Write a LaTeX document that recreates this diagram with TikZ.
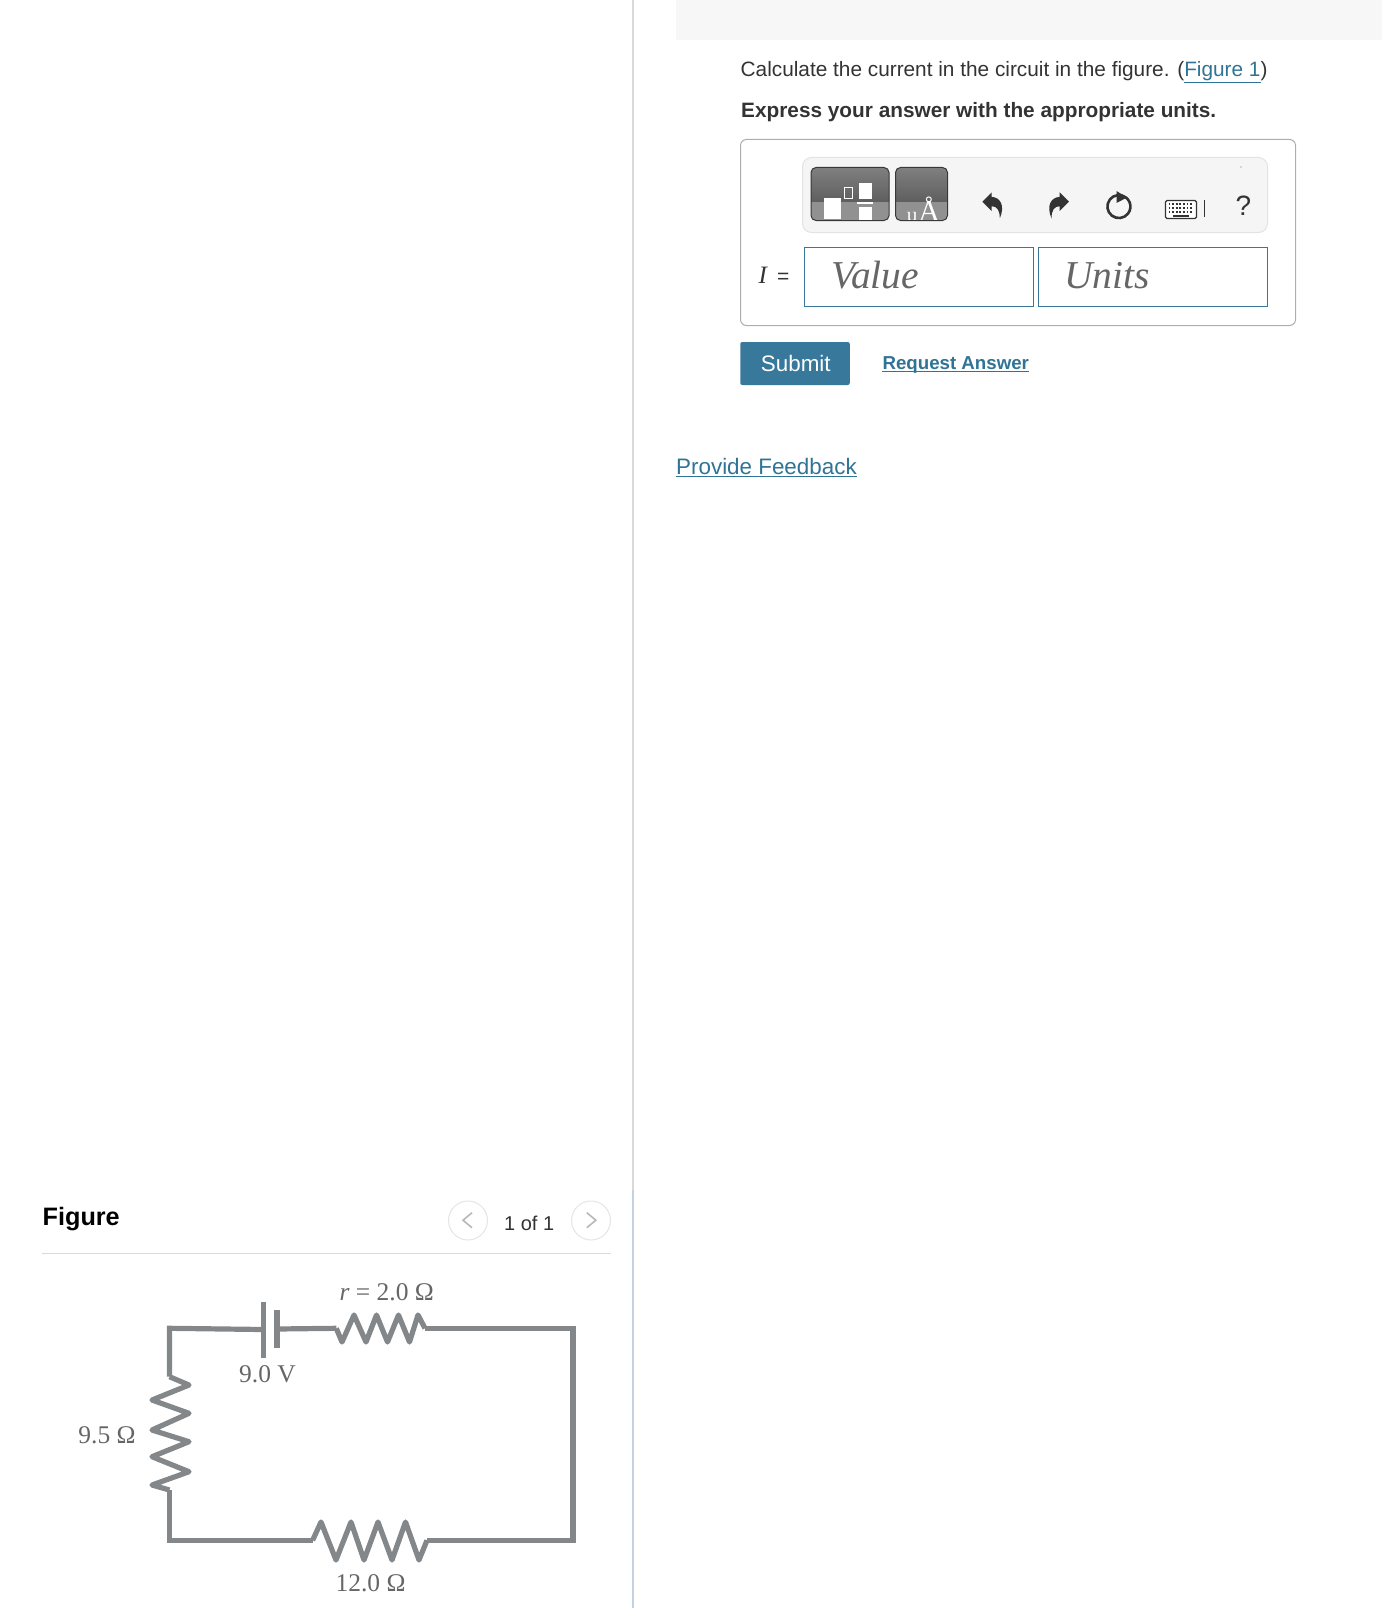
\documentclass[tikz,border=0pt]{standalone}
\usepackage{fontspec}
\setmainfont{Liberation Sans}
\newfontfamily\serifface{Liberation Serif}
\definecolor{linkblue}{HTML}{2F7396}
\definecolor{btnblue}{HTML}{37789B}
\definecolor{boxblue}{HTML}{3A7699}
\definecolor{wiregray}{HTML}{83878A}
\definecolor{labelgray}{HTML}{666666}
\definecolor{icongray}{HTML}{333333}
\definecolor{edgeblue}{HTML}{C3D2E0}
\tikzset{
    wire/.style={line width=5.2pt, color=wiregray},
    coil/.style={wire, line join=round},
    bodytext/.style={anchor=base west, inner sep=0pt, color=icongray},
    circtext/.style={anchor=base, inner sep=0pt, color=labelgray, font=\serifface\fontsize{25.5}{28}\selectfont},
    inputbox/.style={draw=boxblue, line width=1pt, fill=white},
    hint/.style={anchor=base west, inner sep=0pt, color=labelgray, font=\serifface\itshape\fontsize{39.5}{44}\selectfont},
    navring/.style={draw=black!10, line width=1pt, fill=white},
    undoicon/.pic={
        \fill[icongray] (0,0) -- (9.3,-9.3) -- (9.3,-4.8) .. controls (18,-4.5) and (23,4) .. (17.5,16.7)
            .. controls (17.5,9) and (15,4.5) .. (9.3,4.5) -- (9.3,9.3) -- cycle;
    }
}
\begin{document}
\begin{tikzpicture}[x=1pt, y=-1pt]
    \useasboundingbox (0, 0) rectangle (1382, 1608);

    % Page frame
    \fill[black!3] (676, 0) rectangle (1382, 40);
    \draw[black!15, line width=1.2pt] (633, 0) -- (633, 1190);
    \draw[edgeblue, line width=1.4pt] (633, 1190) -- (633, 1608);

    % Question text
    \node[bodytext, font=\fontsize{20.8}{26}\selectfont] (question) at (740.5, 76.8) {Calculate the current in the circuit in the figure. (\textcolor{linkblue}{\underline{Figure 1}})};
    \node[bodytext, font=\bfseries\fontsize{20.8}{26}\selectfont] (express) at (741, 117.3) {Express your answer with the appropriate units.};

    % Answer panel
    \draw[black!32, line width=1pt, rounded corners=6pt] (740.5, 139.5) rectangle (1295.5, 325.5);
    \draw[black!11, fill=black!4, line width=1pt, rounded corners=9pt] (802.5, 157.5) rectangle (1267.5, 232.5);

    % Template buttons
    \begin{scope}
        \clip[rounded corners=5pt] (811, 167.5) rectangle (889, 220.5);
        \shade[top color=black!50, bottom color=black!63] (811, 167.5) rectangle (889, 201.7);
        \fill[black!43] (811, 201.7) rectangle (889, 220.5);
        \fill[white] (824.3, 197.7) rectangle (840.7, 219.3);
        \draw[white, line width=1.2pt] (844.5, 187.8) rectangle (852.5, 198.5);
        \fill[white] (858.7, 183.3) rectangle (871.7, 199);
        \fill[white] (857, 202) rectangle (873, 203.7);
        \fill[white] (858.7, 207) rectangle (871.7, 220.5);
    \end{scope}
    \begin{scope}
        \clip[rounded corners=5pt] (895.5, 167.5) rectangle (947.5, 220.5);
        \shade[top color=black!50, bottom color=black!63] (895.5, 167.5) rectangle (947.5, 201.7);
        \fill[black!43] (895.5, 201.7) rectangle (947.5, 220.5);
        \node[anchor=base, inner sep=0pt, white, font=\serifface\fontsize{20}{22}\selectfont] (micro) at (912, 222) {µ};
        \node[anchor=base, inner sep=0pt, white, font=\serifface\fontsize{30}{34}\selectfont] (angstrom) at (929.3, 221) {Å};
    \end{scope}
    \draw[black!78, line width=1pt, rounded corners=5pt] (811, 167.5) rectangle (889, 220.5);
    \draw[black!78, line width=1pt, rounded corners=5pt] (895.5, 167.5) rectangle (947.5, 220.5);

    % Toolbar icons
    \pic at (982.3, 201.7) {undoicon};
    \pic[xscale=-1] at (1069, 201.7) {undoicon};
    \draw[icongray, line width=2.6pt] (1126, 197.5) arc[start angle=-52, end angle=-415, radius=11.5];
    \fill[icongray] (1116.5, 191) -- (1127, 197.5) -- (1116.5, 203) -- cycle;
    \draw[icongray, fill=white, line width=1.3pt, rounded corners=1.5pt] (1165.5, 200.5) rectangle (1196.5, 218.5);
    \foreach \rowy in {204, 208, 212}
        \draw[icongray, line width=1.4pt, dash pattern=on 1.8pt off 1.8pt] (1168.5, \rowy) -- (1193.5, \rowy);
    \draw[icongray, line width=1.6pt] (1173, 215.7) -- (1189, 215.7);
    \draw[icongray, line width=1.2pt] (1204.7, 200) -- (1204.7, 216.5);
    \node[anchor=base, inner sep=0pt, color=icongray, font=\fontsize{28}{30}\selectfont] (helpmark) at (1243.5, 215.5) {?};
    \fill[black!55] (1241, 167) circle (0.6pt);

    % Answer fields
    \node[anchor=base west, inner sep=0pt, color=icongray, font=\serifface\itshape\fontsize{25}{28}\selectfont] (current) at (758.5, 283.5) {I};
    \node[anchor=base west, inner sep=0pt, color=icongray, font=\fontsize{21}{24}\selectfont] (equals) at (777, 283.5) {=};
    \draw[inputbox] (804, 247.5) rectangle (1033.5, 306.5);
    \draw[inputbox] (1038.5, 247.5) rectangle (1267.5, 306.5);
    \node[hint] (valuehint) at (831, 288) {Value};
    \node[hint] (unitshint) at (1064, 288) {Units};

    % Buttons below the panel
    \node[fill=btnblue, rounded corners=2pt, minimum width=109.5pt, minimum height=43pt, inner sep=0pt] (submit) at (795, 363.5) {};
    \node[anchor=base, inner sep=0pt, text=white, font=\fontsize{22.4}{26}\selectfont] (submittext) at (795.8, 371) {Submit};
    \node[bodytext, color=linkblue, font=\bfseries\fontsize{18.7}{22}\selectfont] (request) at (882.3, 369.3) {Request Answer};
    \draw[linkblue, line width=1.5pt] ([yshift=-2.4pt]request.base west) -- ([yshift=-2.4pt]request.base east);
    \node[bodytext, color=linkblue, font=\fontsize{22.4}{26}\selectfont] (feedback) at (676, 474.5) {\underline{Provide Feedback}};

    % Figure header
    \node[anchor=base west, inner sep=0pt, font=\bfseries\fontsize{25.2}{30}\selectfont] (figtitle) at (42.5, 1225) {Figure};
    \node[navring, circle, minimum size=39pt, inner sep=0pt] (prevbtn) at (468, 1220.5) {};
    \node[navring, circle, minimum size=39pt, inner sep=0pt] (nextbtn) at (591, 1220.5) {};
    \draw[black!28, line width=1.6pt] (472, 1212.7) -- (463, 1220.2) -- (472, 1227.7);
    \draw[black!28, line width=1.6pt] (586.8, 1212.7) -- (595.8, 1220.2) -- (586.8, 1227.7);
    \node[bodytext, font=\fontsize{20}{24}\selectfont] (pagecount) at (504, 1230) {1 of 1};
    \draw[black!15, line width=1pt] (42, 1253.3) -- (611, 1253.3);

    % Circuit
    \coordinate (topleft) at (169.5, 1328.3);
    \coordinate (topright) at (573, 1328.3);
    \coordinate (botleft) at (169.5, 1540.3);
    \coordinate (botright) at (573, 1540.3);
    \coordinate (platelong) at (263.2, 1329.5);
    \coordinate (plateshort) at (277, 1329);
    \coordinate (rin) at (336.3, 1328.3);
    \coordinate (rout) at (425, 1328.3);
    \coordinate (loadin) at (312.6, 1540.3);
    \coordinate (loadout) at (427, 1540.3);
    \coordinate (leftin) at (169.5, 1376.7);
    \coordinate (leftout) at (169.5, 1490);

    \draw[wire, line join=miter] (leftin) -- (topleft) -- (platelong);
    \draw[wire] (plateshort) -- (rin);
    \draw[wire, line join=miter] (rout) -- (topright) -- (botright) -- (loadout);
    \draw[wire, line join=miter] (loadin) -- (botleft) -- (leftout);
    \draw[wire] (263.2, 1301.7) -- (263.2, 1357.7);
    \draw[wire] (277, 1310) -- (277, 1348.3);

    \draw[coil] (rin) -- (342, 1342) -- (354, 1315) -- (366, 1342) -- (376.5, 1315) -- (387.5, 1342) -- (398.5, 1315) -- (409.5, 1342) -- (418, 1315) -- (rout);
    \draw[coil] (loadin) -- (321, 1522) -- (336, 1560) -- (351, 1522) -- (364, 1560) -- (378, 1522) -- (392, 1560) -- (405.5, 1522) -- (419, 1560) -- (loadout);
    \draw[coil] (leftin) -- (189, 1385) -- (152, 1400) -- (189, 1413.3) -- (152, 1430) -- (189, 1441.7) -- (152, 1456.7) -- (189, 1471.7) -- (152, 1485) -- (leftout);

    % Include labels for the circuit parts
    \node[circtext] (rlabel) at (386.7, 1300.7) {\textit{r} = 2.0 Ω};
    \node[circtext] (emflabel) at (267.5, 1382.5) {9.0 V};
    \node[circtext] (leftlabel) at (107, 1443.5) {9.5 Ω};
    \node[circtext] (loadlabel) at (370.5, 1591.5) {12.0 Ω};
\end{tikzpicture}
\end{document}
